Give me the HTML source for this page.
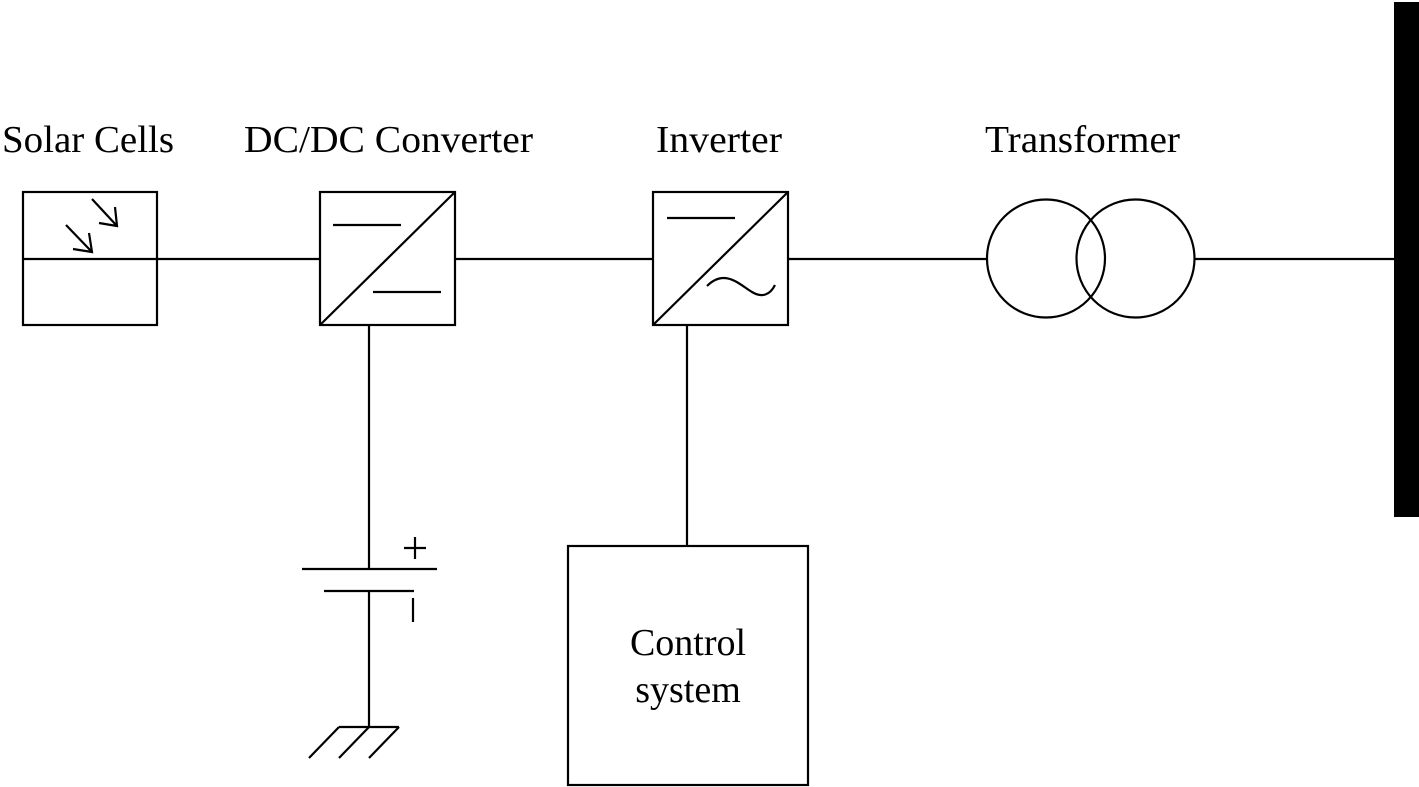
<!DOCTYPE html>
<html><head><meta charset="utf-8"><style>html,body{margin:0;padding:0;background:#fff}svg{display:block}</style></head>
<body>
<svg width="1419" height="787" viewBox="0 0 1419 787" xmlns="http://www.w3.org/2000/svg" font-family="Liberation Serif, serif" font-size="38">
<g fill="none" stroke="#000" stroke-width="2.2">
<!-- solar -->
<rect x="23" y="192" width="134" height="133"/>
<line x1="23" y1="259" x2="157" y2="259"/>
<path d="M66 225 L92 252 M73 249 L92 252 L89 233"/>
<path d="M92 199 L117 226 M99 223 L117 226 L115 207"/>
<line x1="157" y1="259" x2="320" y2="259"/>
<!-- dc/dc -->
<rect x="320" y="192" width="135" height="133"/>
<line x1="320" y1="325" x2="455" y2="192"/>
<line x1="333" y1="225" x2="401" y2="225"/>
<line x1="373" y1="292" x2="441" y2="292"/>
<line x1="455" y1="259" x2="653" y2="259"/>
<!-- inverter -->
<rect x="653" y="192" width="135" height="133"/>
<line x1="653" y1="325" x2="788" y2="192"/>
<line x1="667" y1="218" x2="735" y2="218"/>
<path d="M707 286 C725 268 740 285 752 292 C762 298 770 295 775 285"/>
<line x1="788" y1="259" x2="987" y2="259"/>
<!-- transformer -->
<circle cx="1046" cy="258.5" r="59"/>
<circle cx="1135.5" cy="258.5" r="59"/>
<line x1="1195" y1="259" x2="1395" y2="259"/>
<!-- battery -->
<line x1="369" y1="325" x2="369" y2="569"/>
<line x1="302" y1="569" x2="437" y2="569"/>
<line x1="324" y1="591" x2="414" y2="591"/>
<line x1="369" y1="591" x2="369" y2="727"/>
<line x1="339" y1="727" x2="399" y2="727"/>
<path d="M339 727 L309 758 M369 727 L339 758 M399 727 L369 758"/>
<path d="M404 548 H426 M415 537 V559"/>
<line x1="413" y1="598" x2="413" y2="622"/>
<!-- control -->
<line x1="687" y1="325" x2="687" y2="546"/>
<rect x="568" y="546" width="240" height="239"/>
</g>
<rect x="1394" y="2" width="25" height="515" fill="#000"/>
<g fill="#000">
<text x="2" y="152" textLength="172" lengthAdjust="spacingAndGlyphs">Solar Cells</text>
<text x="244" y="152" textLength="289" lengthAdjust="spacingAndGlyphs">DC/DC Converter</text>
<text x="656" y="152" textLength="126" lengthAdjust="spacingAndGlyphs">Inverter</text>
<text x="985" y="152" textLength="195" lengthAdjust="spacingAndGlyphs">Transformer</text>
<text x="688" y="655" text-anchor="middle">Control</text>
<text x="688" y="702" text-anchor="middle">system</text>
</g>
</svg>
</body></html>
